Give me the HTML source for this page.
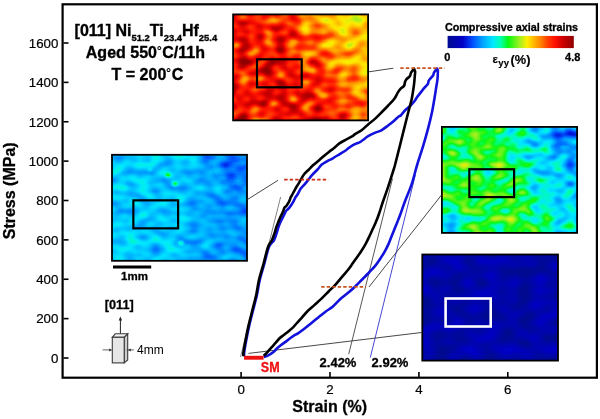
<!DOCTYPE html>
<html><head><meta charset="utf-8"><style>
html,body{margin:0;padding:0;background:#fff;}
svg{display:block;}
text{font-family:"Liberation Sans",Arial,sans-serif;}
</style></head><body>
<svg width="600" height="419" viewBox="0 0 600 419">
<defs>
<filter id="blur" x="-1" y="-1" width="3" height="3"><feGaussianBlur stdDeviation="5"/></filter><filter id="blur2" x="-1" y="-1" width="3" height="3"><feGaussianBlur stdDeviation="1.2"/></filter><filter id="fr" filterUnits="userSpaceOnUse" x="233.1" y="14.4" width="135" height="106" color-interpolation-filters="sRGB">
<feTurbulence type="fractalNoise" baseFrequency="0.08 0.12" numOctaves="1" seed="4" result="n"/>
<feColorMatrix in="n" type="matrix" values="1 0 0 0 0 1 0 0 0 0 1 0 0 0 0 0 0 0 0 1" result="g"/>
<feComposite in="SourceGraphic" in2="g" operator="arithmetic" k1="1.4700" k2="0.2650" k3="-0.6500" k4="0.3250" result="v"/>
<feComponentTransfer in="v"><feFuncR type="table" tableValues="0.000 0.000 0.000 0.000 0.000 0.000 0.000 0.000 0.000 0.000 0.000 0.000 0.000 0.000 0.000 0.000 0.000 0.000 0.000 0.000 0.000 0.000 0.000 0.000 0.000 0.000 0.000 0.001 0.009 0.017 0.025 0.060 0.164 0.267 0.371 0.474 0.578 0.678 0.775 0.872 0.969 1.000 1.000 1.000 1.000 1.000 1.000 1.000 1.000 1.000 1.000 1.000 1.000 1.000 1.000 0.971 0.923 0.875 0.827 0.783 0.739 0.695 0.652 0.608 0.565"/><feFuncG type="table" tableValues="0.039 0.034 0.029 0.024 0.019 0.014 0.009 0.003 0.020 0.081 0.142 0.203 0.265 0.327 0.392 0.458 0.523 0.588 0.648 0.700 0.752 0.804 0.856 0.908 0.932 0.956 0.979 0.999 0.992 0.985 0.978 0.971 0.966 0.960 0.955 0.949 0.944 0.940 0.938 0.936 0.934 0.890 0.827 0.764 0.700 0.641 0.582 0.523 0.452 0.373 0.295 0.229 0.180 0.131 0.082 0.053 0.037 0.020 0.004 0.000 0.000 0.000 0.000 0.000 0.000"/><feFuncB type="table" tableValues="0.565 0.593 0.622 0.650 0.679 0.708 0.736 0.765 0.798 0.840 0.882 0.924 0.966 1.000 1.000 1.000 1.000 1.000 1.000 1.000 1.000 1.000 1.000 1.000 0.923 0.842 0.761 0.671 0.509 0.348 0.187 0.073 0.083 0.092 0.102 0.111 0.121 0.108 0.076 0.043 0.010 0.000 0.000 0.000 0.000 0.000 0.000 0.000 0.000 0.000 0.000 0.000 0.000 0.000 0.000 0.000 0.000 0.000 0.000 0.000 0.000 0.000 0.000 0.000 0.000"/><feFuncA type="linear" slope="0" intercept="1"/></feComponentTransfer>
</filter><linearGradient id="gr" gradientUnits="userSpaceOnUse" x1="298" y1="82" x2="350" y2="46"><stop offset="0" stop-color="#dadada"/><stop offset="0.4" stop-color="#cccccc"/><stop offset="0.7" stop-color="#bababa"/><stop offset="1" stop-color="#b0b0b0"/></linearGradient><filter id="fb" filterUnits="userSpaceOnUse" x="112" y="154.8" width="135" height="106" color-interpolation-filters="sRGB">
<feTurbulence type="fractalNoise" baseFrequency="0.08 0.13" numOctaves="1" seed="7" result="n"/>
<feColorMatrix in="n" type="matrix" values="1 0 0 0 0 1 0 0 0 0 1 0 0 0 0 0 0 0 0 1" result="g"/>
<feComposite in="SourceGraphic" in2="g" operator="arithmetic" k1="0.0000" k2="1.0000" k3="0.2700" k4="-0.1350" result="v"/>
<feComponentTransfer in="v"><feFuncR type="table" tableValues="0.000 0.000 0.000 0.000 0.000 0.000 0.000 0.000 0.000 0.000 0.000 0.000 0.000 0.000 0.000 0.000 0.000 0.000 0.000 0.000 0.000 0.000 0.000 0.000 0.000 0.000 0.000 0.001 0.009 0.017 0.025 0.060 0.164 0.267 0.371 0.474 0.578 0.678 0.775 0.872 0.969 1.000 1.000 1.000 1.000 1.000 1.000 1.000 1.000 1.000 1.000 1.000 1.000 1.000 1.000 0.971 0.923 0.875 0.827 0.783 0.739 0.695 0.652 0.608 0.565"/><feFuncG type="table" tableValues="0.039 0.034 0.029 0.024 0.019 0.014 0.009 0.003 0.020 0.081 0.142 0.203 0.265 0.327 0.392 0.458 0.523 0.588 0.648 0.700 0.752 0.804 0.856 0.908 0.932 0.956 0.979 0.999 0.992 0.985 0.978 0.971 0.966 0.960 0.955 0.949 0.944 0.940 0.938 0.936 0.934 0.890 0.827 0.764 0.700 0.641 0.582 0.523 0.452 0.373 0.295 0.229 0.180 0.131 0.082 0.053 0.037 0.020 0.004 0.000 0.000 0.000 0.000 0.000 0.000"/><feFuncB type="table" tableValues="0.565 0.593 0.622 0.650 0.679 0.708 0.736 0.765 0.798 0.840 0.882 0.924 0.966 1.000 1.000 1.000 1.000 1.000 1.000 1.000 1.000 1.000 1.000 1.000 0.923 0.842 0.761 0.671 0.509 0.348 0.187 0.073 0.083 0.092 0.102 0.111 0.121 0.108 0.076 0.043 0.010 0.000 0.000 0.000 0.000 0.000 0.000 0.000 0.000 0.000 0.000 0.000 0.000 0.000 0.000 0.000 0.000 0.000 0.000 0.000 0.000 0.000 0.000 0.000 0.000"/><feFuncA type="linear" slope="0" intercept="1"/></feComponentTransfer>
</filter><linearGradient id="gb" x1="0" y1="0" x2="1" y2="0"><stop offset="0" stop-color="#545454"/><stop offset="0.45" stop-color="#525252"/><stop offset="0.72" stop-color="#494949"/><stop offset="1" stop-color="#404040"/></linearGradient><filter id="fg" filterUnits="userSpaceOnUse" x="441.9" y="126.9" width="135.2" height="106" color-interpolation-filters="sRGB">
<feTurbulence type="fractalNoise" baseFrequency="0.085 0.13" numOctaves="1" seed="11" result="n"/>
<feColorMatrix in="n" type="matrix" values="1 0 0 0 0 1 0 0 0 0 1 0 0 0 0 0 0 0 0 1" result="g"/>
<feComposite in="SourceGraphic" in2="g" operator="arithmetic" k1="0.0000" k2="1.0000" k3="0.4200" k4="-0.2100" result="v"/>
<feComponentTransfer in="v"><feFuncR type="table" tableValues="0.000 0.000 0.000 0.000 0.000 0.000 0.000 0.000 0.000 0.000 0.000 0.000 0.000 0.000 0.000 0.000 0.000 0.000 0.000 0.000 0.000 0.000 0.000 0.000 0.000 0.000 0.000 0.001 0.009 0.017 0.025 0.060 0.164 0.267 0.371 0.474 0.578 0.678 0.775 0.872 0.969 1.000 1.000 1.000 1.000 1.000 1.000 1.000 1.000 1.000 1.000 1.000 1.000 1.000 1.000 0.971 0.923 0.875 0.827 0.783 0.739 0.695 0.652 0.608 0.565"/><feFuncG type="table" tableValues="0.039 0.034 0.029 0.024 0.019 0.014 0.009 0.003 0.020 0.081 0.142 0.203 0.265 0.327 0.392 0.458 0.523 0.588 0.648 0.700 0.752 0.804 0.856 0.908 0.932 0.956 0.979 0.999 0.992 0.985 0.978 0.971 0.966 0.960 0.955 0.949 0.944 0.940 0.938 0.936 0.934 0.890 0.827 0.764 0.700 0.641 0.582 0.523 0.452 0.373 0.295 0.229 0.180 0.131 0.082 0.053 0.037 0.020 0.004 0.000 0.000 0.000 0.000 0.000 0.000"/><feFuncB type="table" tableValues="0.565 0.593 0.622 0.650 0.679 0.708 0.736 0.765 0.798 0.840 0.882 0.924 0.966 1.000 1.000 1.000 1.000 1.000 1.000 1.000 1.000 1.000 1.000 1.000 0.923 0.842 0.761 0.671 0.509 0.348 0.187 0.073 0.083 0.092 0.102 0.111 0.121 0.108 0.076 0.043 0.010 0.000 0.000 0.000 0.000 0.000 0.000 0.000 0.000 0.000 0.000 0.000 0.000 0.000 0.000 0.000 0.000 0.000 0.000 0.000 0.000 0.000 0.000 0.000 0.000"/><feFuncA type="linear" slope="0" intercept="1"/></feComponentTransfer>
</filter><linearGradient id="gg" gradientUnits="userSpaceOnUse" x1="490" y1="190" x2="574" y2="158"><stop offset="0" stop-color="#7c7c7c"/><stop offset="0.3" stop-color="#7a7a7a"/><stop offset="0.45" stop-color="#696969"/><stop offset="0.6" stop-color="#5c5c5c"/><stop offset="1" stop-color="#4f4f4f"/></linearGradient><filter id="fd" filterUnits="userSpaceOnUse" x="422.3" y="254.5" width="135.7" height="106.1" color-interpolation-filters="sRGB">
<feTurbulence type="fractalNoise" baseFrequency="0.06 0.09" numOctaves="1" seed="2" result="n"/>
<feColorMatrix in="n" type="matrix" values="1 0 0 0 0 1 0 0 0 0 1 0 0 0 0 0 0 0 0 1" result="g"/>
<feComposite in="SourceGraphic" in2="g" operator="arithmetic" k1="0.0000" k2="1.0000" k3="0.2600" k4="-0.1300" result="v"/>
<feComponentTransfer in="v"><feFuncR type="table" tableValues="0.000 0.000 0.000 0.000 0.000 0.000 0.000 0.000 0.000 0.000 0.000 0.000 0.000 0.000 0.000 0.000 0.000 0.000 0.000 0.000 0.000 0.000 0.000 0.000 0.000 0.000 0.000 0.001 0.009 0.017 0.025 0.060 0.164 0.267 0.371 0.474 0.578 0.678 0.775 0.872 0.969 1.000 1.000 1.000 1.000 1.000 1.000 1.000 1.000 1.000 1.000 1.000 1.000 1.000 1.000 0.971 0.923 0.875 0.827 0.783 0.739 0.695 0.652 0.608 0.565"/><feFuncG type="table" tableValues="0.039 0.034 0.029 0.024 0.019 0.014 0.009 0.003 0.020 0.081 0.142 0.203 0.265 0.327 0.392 0.458 0.523 0.588 0.648 0.700 0.752 0.804 0.856 0.908 0.932 0.956 0.979 0.999 0.992 0.985 0.978 0.971 0.966 0.960 0.955 0.949 0.944 0.940 0.938 0.936 0.934 0.890 0.827 0.764 0.700 0.641 0.582 0.523 0.452 0.373 0.295 0.229 0.180 0.131 0.082 0.053 0.037 0.020 0.004 0.000 0.000 0.000 0.000 0.000 0.000"/><feFuncB type="table" tableValues="0.565 0.593 0.622 0.650 0.679 0.708 0.736 0.765 0.798 0.840 0.882 0.924 0.966 1.000 1.000 1.000 1.000 1.000 1.000 1.000 1.000 1.000 1.000 1.000 0.923 0.842 0.761 0.671 0.509 0.348 0.187 0.073 0.083 0.092 0.102 0.111 0.121 0.108 0.076 0.043 0.010 0.000 0.000 0.000 0.000 0.000 0.000 0.000 0.000 0.000 0.000 0.000 0.000 0.000 0.000 0.000 0.000 0.000 0.000 0.000 0.000 0.000 0.000 0.000 0.000"/><feFuncA type="linear" slope="0" intercept="1"/></feComponentTransfer>
</filter><linearGradient id="gd" x1="0" y1="0" x2="1" y2="0"><stop offset="0" stop-color="#0d0d0d"/><stop offset="1" stop-color="#0e0e0e"/></linearGradient>
<linearGradient id="jet" x1="0" y1="0" x2="1" y2="0"><stop offset="0.0" stop-color="#000a90"/><stop offset="0.12" stop-color="#0000c8"/><stop offset="0.2" stop-color="#0050ff"/><stop offset="0.275" stop-color="#00a0ff"/><stop offset="0.36" stop-color="#00e8ff"/><stop offset="0.42" stop-color="#00ffb0"/><stop offset="0.48" stop-color="#08f812"/><stop offset="0.57" stop-color="#a0f020"/><stop offset="0.63" stop-color="#ffee00"/><stop offset="0.69" stop-color="#ffb000"/><stop offset="0.74" stop-color="#ff8000"/><stop offset="0.79" stop-color="#ff4000"/><stop offset="0.85" stop-color="#ff1000"/><stop offset="0.91" stop-color="#d00000"/><stop offset="1.0" stop-color="#900000"/></linearGradient>
</defs>
<rect width="600" height="419" fill="#fff"/>

<!-- frame -->
<rect x="62.6" y="4.3" width="534.3" height="373.4" fill="none" stroke="#000" stroke-width="2.2"/>
<!-- y ticks -->
<g stroke="#000" stroke-width="1.6">
<line x1="63.5" y1="358.00" x2="68.5" y2="358.00"/><line x1="63.5" y1="318.62" x2="68.5" y2="318.62"/><line x1="63.5" y1="279.25" x2="68.5" y2="279.25"/><line x1="63.5" y1="239.88" x2="68.5" y2="239.88"/><line x1="63.5" y1="200.50" x2="68.5" y2="200.50"/><line x1="63.5" y1="161.12" x2="68.5" y2="161.12"/><line x1="63.5" y1="121.75" x2="68.5" y2="121.75"/><line x1="63.5" y1="82.38" x2="68.5" y2="82.38"/><line x1="63.5" y1="43.00" x2="68.5" y2="43.00"/>
<line x1="241.10" y1="372" x2="241.10" y2="377"/><line x1="330.00" y1="372" x2="330.00" y2="377"/><line x1="418.90" y1="372" x2="418.90" y2="377"/><line x1="507.80" y1="372" x2="507.80" y2="377"/>
</g>
<g font-size="13.3" text-anchor="end" fill="#000" stroke="#000" stroke-width="0.2">
<text x="58.4" y="362.80">0</text><text x="58.4" y="323.43">200</text><text x="58.4" y="284.05">400</text><text x="58.4" y="244.68">600</text><text x="58.4" y="205.30">800</text><text x="58.4" y="165.93">1000</text><text x="58.4" y="126.55">1200</text><text x="58.4" y="87.17">1400</text><text x="58.4" y="47.80">1600</text>
</g>
<g font-size="13.3" text-anchor="middle" fill="#000" stroke="#000" stroke-width="0.2">
<text x="241.10" y="393.6">0</text><text x="330.00" y="393.6">2</text><text x="418.90" y="393.6">4</text><text x="507.80" y="393.6">6</text>
</g>
<text x="329.7" y="411.7" font-size="16" font-weight="bold" text-anchor="middle" stroke="#000" stroke-width="0.3">Strain (%)</text>
<text transform="translate(15.3,190.8) rotate(-90)" font-size="16" font-weight="bold" text-anchor="middle" stroke="#000" stroke-width="0.3">Stress (MPa)</text>

<!-- title block -->
<g font-weight="bold" fill="#000" stroke="#000" stroke-width="0.35">
<text x="74.6" y="36" font-size="16">[011] Ni<tspan font-size="9.4" dy="5">51.2</tspan><tspan dy="-5">Ti</tspan><tspan font-size="9.4" dy="5">23.4</tspan><tspan dy="-5">Hf</tspan><tspan font-size="9.4" dy="5">25.4</tspan></text>
<text x="145.4" y="57.8" font-size="16" text-anchor="middle">Aged 550<tspan dy="1.6" stroke-width="0">˚</tspan><tspan dy="-1.6">C/11h</tspan></text>
<text x="147.4" y="79.5" font-size="16" text-anchor="middle">T = 200<tspan dy="1.6" stroke-width="0">˚</tspan><tspan dy="-1.6">C</tspan></text>
</g>

<!-- insets -->
<g filter="url(#fr)"><rect x="233.1" y="14.4" width="135" height="106" fill="url(#gr)"/><ellipse cx="352" cy="21" rx="16" ry="4" fill="#949494" filter="url(#blur)"/><ellipse cx="345" cy="43" rx="10" ry="3" fill="#949494" filter="url(#blur)"/><ellipse cx="363" cy="72" rx="4" ry="10" fill="#999999" filter="url(#blur)"/><ellipse cx="340" cy="100" rx="16" ry="10" fill="#cccccc" filter="url(#blur)"/><ellipse cx="362" cy="112" rx="8" ry="6" fill="#c2c2c2" filter="url(#blur)"/></g><rect x="233.1" y="14.4" width="135" height="106" fill="none" stroke="#000" stroke-width="1.8"/>
<rect x="257" y="59.3" width="44.7" height="28" fill="none" stroke="#000" stroke-width="2.2"/>

<g filter="url(#fb)"><rect x="112" y="154.8" width="135" height="106" fill="url(#gb)"/><ellipse cx="236" cy="166" rx="16" ry="12" fill="#393939" filter="url(#blur)"/><ellipse cx="168" cy="175" rx="3" ry="2" fill="#787878" filter="url(#blur2)"/><ellipse cx="175" cy="184" rx="3" ry="2.2" fill="#787878" filter="url(#blur2)"/><ellipse cx="181" cy="243" rx="3" ry="2.2" fill="#787878" filter="url(#blur2)"/><ellipse cx="150" cy="170" rx="2" ry="1.5" fill="#6b6b6b" filter="url(#blur2)"/></g><rect x="112" y="154.8" width="135" height="106" fill="none" stroke="#000" stroke-width="1.8"/>
<rect x="133.35" y="200.35" width="44.75" height="28" fill="none" stroke="#000" stroke-width="2.2"/>

<g filter="url(#fg)"><rect x="441.9" y="126.9" width="135.2" height="106" fill="url(#gg)"/><ellipse cx="565" cy="138" rx="22" ry="12" fill="#404040" filter="url(#blur)"/><ellipse cx="452" cy="220" rx="16" ry="14" fill="#5e5e5e" filter="url(#blur)"/><ellipse cx="446" cy="229" rx="7" ry="5" fill="#474747" filter="url(#blur)"/><ellipse cx="452" cy="132" rx="12" ry="6" fill="#696969" filter="url(#blur)"/></g><rect x="441.9" y="126.9" width="135.2" height="106" fill="none" stroke="#000" stroke-width="1.8"/>
<rect x="469.35" y="169.25" width="44.75" height="27.85" fill="none" stroke="#000" stroke-width="2.2"/>

<g filter="url(#fd)"><rect x="422.3" y="254.5" width="135.7" height="106.1" fill="url(#gd)"/></g><rect x="422.3" y="254.5" width="135.7" height="106.1" fill="none" stroke="#000" stroke-width="1.8"/>
<rect x="445.6" y="298.5" width="45.1" height="28" fill="none" stroke="#fff" stroke-width="2.6"/>

<!-- scale bar -->
<rect x="113" y="265.5" width="38.2" height="3" fill="#000"/>
<text x="134.5" y="279.5" font-size="11.5" font-weight="bold" stroke="#000" stroke-width="0.3" text-anchor="middle">1mm</text>

<!-- colorbar -->
<text x="511.5" y="30.5" font-size="10.8" font-weight="bold" stroke="#000" stroke-width="0.3" text-anchor="middle">Compressive axial strains</text>
<rect x="447.6" y="35.9" width="126.2" height="12.2" fill="url(#jet)"/>
<text x="447.4" y="60.7" font-size="11" font-weight="bold" stroke="#000" stroke-width="0.3" text-anchor="middle">0</text>
<text x="572.7" y="60.7" font-size="11" font-weight="bold" stroke="#000" stroke-width="0.3" text-anchor="middle">4.8</text>
<g font-weight="bold" stroke="#000" stroke-width="0.15"><text x="492.4" y="62.6" font-size="11.5">ε</text><text x="498.3" y="66.3" font-size="9.6">yy</text><text x="510.6" y="64.2" font-size="12.8">(%)</text></g>

<!-- thin lines -->
<g fill="none" stroke-width="0.9">
<line x1="240.5" y1="357" x2="280.6" y2="197" stroke="#777"/>
<line x1="247.5" y1="199.5" x2="278" y2="180.3" stroke="#333"/>
<line x1="369" y1="71.8" x2="393.3" y2="68.2" stroke="#333"/>
<line x1="392.5" y1="178.6" x2="348.7" y2="354.2" stroke="#444"/>
<line x1="415.4" y1="174.8" x2="370.3" y2="357.5" stroke="#3333cc"/>
<line x1="441.5" y1="195" x2="369" y2="287" stroke="#333"/>
<line x1="248.5" y1="353.4" x2="421.5" y2="332.5" stroke="#333"/>
</g>


<!-- curves -->
<path d="M244.20,356.20 C244.18,355.67 243.80,355.43 244.10,353.00 C244.40,350.57 245.17,346.08 246.00,341.60 C246.83,337.12 247.93,331.28 249.10,326.10 C250.27,320.92 251.70,315.68 253.00,310.50 C254.30,305.32 255.78,300.05 256.90,295.00 C258.02,289.95 258.45,285.45 259.70,280.20 C260.95,274.95 262.85,269.08 264.40,263.50 C265.95,257.92 267.38,250.62 269.00,246.70 C270.62,242.78 272.80,242.35 274.10,240.00 C275.40,237.65 276.08,234.73 276.80,232.60 C277.52,230.47 277.77,229.00 278.40,227.20 C279.03,225.40 279.78,223.58 280.60,221.80 C281.42,220.02 282.42,218.28 283.30,216.50 C284.18,214.72 285.10,212.35 285.90,211.10 C286.70,209.85 287.28,209.90 288.10,209.00 C288.92,208.10 289.90,206.97 290.80,205.70 C291.70,204.43 292.70,202.83 293.50,201.40 C294.30,199.97 294.98,198.17 295.60,197.10 C296.22,196.03 296.33,196.42 297.20,195.00 C298.07,193.58 299.50,190.45 300.80,188.60 C302.10,186.75 303.73,185.40 305.00,183.90 C306.27,182.40 307.12,181.20 308.40,179.60 C309.68,178.00 311.18,175.98 312.70,174.30 C314.22,172.62 315.98,171.12 317.50,169.50 C319.02,167.88 320.22,165.95 321.80,164.60 C323.38,163.25 325.17,162.45 327.00,161.40 C328.83,160.35 330.73,159.48 332.80,158.30 C334.87,157.12 337.20,155.65 339.40,154.30 C341.60,152.95 343.82,151.70 346.00,150.20 C348.18,148.70 350.17,146.65 352.50,145.30 C354.83,143.95 358.27,142.98 360.00,142.10 C361.73,141.22 361.55,140.98 362.90,140.00 C364.25,139.02 366.13,137.38 368.10,136.20 C370.07,135.02 372.50,133.88 374.70,132.90 C376.90,131.92 379.12,131.50 381.30,130.30 C383.48,129.10 385.62,127.35 387.80,125.70 C389.98,124.05 392.63,121.90 394.40,120.40 C396.17,118.90 397.30,117.57 398.40,116.70 C399.50,115.83 399.92,116.23 401.00,115.20 C402.08,114.17 403.38,112.03 404.90,110.50 C406.42,108.97 408.42,107.67 410.10,106.00 C411.78,104.33 413.85,101.97 415.00,100.50 C416.15,99.03 416.03,98.55 417.00,97.20 C417.97,95.85 419.70,93.83 420.80,92.40 C421.90,90.97 422.82,89.55 423.60,88.60 C424.38,87.65 424.78,87.48 425.50,86.70 C426.22,85.92 427.38,84.85 427.90,83.90 C428.42,82.95 428.20,81.88 428.60,81.00 C429.00,80.12 429.53,79.55 430.30,78.60 C431.07,77.65 432.57,76.33 433.20,75.30 C433.83,74.27 433.47,73.52 434.10,72.40 C434.73,71.28 436.52,69.23 437.00,68.60 L437.90,70.50 C437.83,71.93 437.82,76.08 437.50,79.10 C437.18,82.12 436.47,85.62 436.00,88.60 C435.53,91.58 435.35,93.15 434.70,97.00 C434.05,100.85 433.20,106.47 432.10,111.70 C431.00,116.93 429.55,122.82 428.10,128.40 C426.65,133.98 425.23,139.10 423.40,145.20 C421.57,151.30 419.07,158.47 417.10,165.00 C415.13,171.53 413.63,178.32 411.60,184.40 C409.57,190.48 406.82,196.40 404.90,201.50 C402.98,206.60 401.37,211.55 400.10,215.00 C398.83,218.45 398.25,219.82 397.30,222.20 C396.35,224.58 395.37,226.92 394.40,229.30 C393.43,231.68 392.45,234.12 391.50,236.50 C390.55,238.88 389.77,241.22 388.70,243.60 C387.63,245.98 386.42,248.42 385.10,250.80 C383.78,253.18 382.35,255.52 380.80,257.90 C379.25,260.28 377.68,262.75 375.80,265.10 C373.92,267.45 371.87,269.52 369.50,272.00 C367.13,274.48 364.12,277.47 361.60,280.00 C359.08,282.53 356.80,284.93 354.40,287.20 C352.00,289.47 349.58,291.58 347.20,293.60 C344.82,295.62 342.48,297.15 340.10,299.30 C337.72,301.45 335.28,304.47 332.90,306.50 C330.52,308.53 328.18,309.72 325.80,311.50 C323.42,313.28 320.98,315.28 318.60,317.20 C316.22,319.12 313.88,321.08 311.50,323.00 C309.12,324.92 306.55,326.98 304.30,328.70 C302.05,330.42 299.87,332.07 298.00,333.30 C296.13,334.53 294.92,334.88 293.10,336.10 C291.28,337.32 289.10,339.10 287.10,340.60 C285.10,342.10 282.85,343.73 281.10,345.10 C279.35,346.47 277.98,347.55 276.60,348.80 C275.22,350.05 274.18,351.52 272.80,352.60 C271.42,353.68 269.80,354.57 268.30,355.30 C266.80,356.03 264.55,356.72 263.80,357.00" fill="none" stroke="#1212dc" stroke-width="2.6" stroke-linejoin="round"/>
<path d="M243.50,356.20 C243.48,355.67 243.10,355.43 243.40,353.00 C243.70,350.57 244.47,346.08 245.30,341.60 C246.13,337.12 247.23,331.28 248.40,326.10 C249.57,320.92 251.00,315.68 252.30,310.50 C253.60,305.32 255.10,300.05 256.20,295.00 C257.30,289.95 257.67,285.45 258.90,280.20 C260.13,274.95 262.07,269.08 263.60,263.50 C265.13,257.92 266.70,250.62 268.10,246.70 C269.50,242.78 270.90,242.35 272.00,240.00 C273.10,237.65 273.98,234.73 274.70,232.60 C275.42,230.47 275.68,229.00 276.30,227.20 C276.92,225.40 277.68,223.58 278.40,221.80 C279.12,220.02 279.78,218.28 280.60,216.50 C281.42,214.72 282.68,212.53 283.30,211.10 C283.92,209.67 283.77,208.80 284.30,207.90 C284.83,207.00 285.68,206.78 286.50,205.70 C287.32,204.62 288.48,202.83 289.20,201.40 C289.92,199.97 290.35,198.12 290.80,197.10 C291.25,196.08 291.12,196.72 291.90,195.30 C292.68,193.88 294.42,190.50 295.50,188.60 C296.58,186.70 297.52,185.40 298.40,183.90 C299.28,182.40 299.85,181.20 300.80,179.60 C301.75,178.00 302.75,175.98 304.10,174.30 C305.45,172.62 307.32,171.08 308.90,169.50 C310.48,167.92 311.85,166.38 313.60,164.80 C315.35,163.22 317.73,161.43 319.40,160.00 C321.07,158.57 322.02,157.55 323.60,156.20 C325.18,154.85 327.15,153.27 328.90,151.90 C330.65,150.53 332.35,149.42 334.10,148.00 C335.85,146.58 337.42,144.78 339.40,143.40 C341.38,142.02 343.82,140.90 346.00,139.70 C348.18,138.50 351.00,137.12 352.50,136.20 C354.00,135.28 353.48,135.18 355.00,134.20 C356.52,133.22 359.42,131.93 361.60,130.30 C363.78,128.67 365.92,126.27 368.10,124.40 C370.28,122.53 372.50,121.07 374.70,119.10 C376.90,117.13 379.12,114.78 381.30,112.60 C383.48,110.42 385.62,108.30 387.80,106.00 C389.98,103.70 392.72,101.07 394.40,98.80 C396.08,96.53 396.85,94.10 397.90,92.40 C398.95,90.70 399.67,89.70 400.70,88.60 C401.73,87.50 403.38,86.90 404.10,85.80 C404.82,84.70 404.60,83.12 405.00,82.00 C405.40,80.88 405.70,80.07 406.50,79.10 C407.30,78.13 409.02,77.32 409.80,76.20 C410.58,75.08 410.48,73.67 411.20,72.40 C411.92,71.13 413.62,69.23 414.10,68.60 L415.20,72.00 C415.13,72.67 414.98,74.02 414.80,76.00 C414.62,77.98 414.45,81.00 414.10,83.90 C413.75,86.80 413.13,90.72 412.70,93.40 C412.27,96.08 412.22,96.95 411.50,100.00 C410.78,103.05 409.62,106.97 408.40,111.70 C407.18,116.43 405.60,122.82 404.20,128.40 C402.80,133.98 401.53,139.10 400.00,145.20 C398.47,151.30 396.03,161.03 395.00,165.00 C393.97,168.97 395.02,165.13 393.80,169.00 C392.58,172.87 389.50,182.78 387.70,188.20 C385.90,193.62 384.52,197.03 383.00,201.50 C381.48,205.97 379.80,211.55 378.60,215.00 C377.40,218.45 376.80,219.82 375.80,222.20 C374.80,224.58 373.68,226.92 372.60,229.30 C371.52,231.68 370.43,234.12 369.30,236.50 C368.17,238.88 367.10,241.22 365.80,243.60 C364.50,245.98 363.05,248.42 361.50,250.80 C359.95,253.18 358.17,255.52 356.50,257.90 C354.83,260.28 353.00,263.00 351.50,265.10 C350.00,267.20 348.93,268.70 347.50,270.50 C346.07,272.30 344.85,273.60 342.90,275.90 C340.95,278.20 338.18,281.70 335.80,284.30 C333.42,286.90 330.98,289.12 328.60,291.50 C326.22,293.88 323.88,296.33 321.50,298.60 C319.12,300.87 316.68,302.95 314.30,305.10 C311.92,307.25 309.50,309.15 307.20,311.50 C304.90,313.85 302.37,317.12 300.50,319.20 C298.63,321.28 297.23,322.63 296.00,324.00 C294.77,325.37 294.33,326.18 293.10,327.40 C291.87,328.62 290.10,330.07 288.60,331.30 C287.10,332.53 285.60,333.63 284.10,334.80 C282.60,335.97 281.35,336.58 279.60,338.30 C277.85,340.02 275.48,342.97 273.60,345.10 C271.72,347.23 269.93,349.32 268.30,351.10 C266.67,352.88 264.55,355.02 263.80,355.80" fill="none" stroke="#000" stroke-width="2.6" stroke-linejoin="round"/>

<g stroke-width="1.8" stroke-dasharray="3.4 2.1" fill="none">
<line x1="284.2" y1="179.7" x2="328.3" y2="179.7" stroke="#cc2c14"/>
<line x1="400.3" y1="68.2" x2="444.7" y2="68.2" stroke="#c9541e"/>
<line x1="321.2" y1="286.8" x2="366" y2="286.8" stroke="#c9541e"/>
</g>
<!-- SM -->
<rect x="244.1" y="355.8" width="19.5" height="3.9" fill="#ee1111"/>
<text x="260.8" y="372.4" font-size="14.2" font-weight="bold" fill="#ee1111" stroke="#ee1111" stroke-width="0.3" textLength="18.8" lengthAdjust="spacingAndGlyphs">SM</text>
<text x="338" y="367.2" font-size="13" font-weight="bold" stroke="#000" stroke-width="0.3" text-anchor="middle">2.42%</text>
<text x="390" y="367.2" font-size="13" font-weight="bold" stroke="#000" stroke-width="0.3" text-anchor="middle">2.92%</text>

<!-- specimen icon -->
<text x="119.3" y="309.2" font-size="12.7" font-weight="bold" stroke="#000" stroke-width="0.3" text-anchor="middle">[011]</text>
<line x1="120.4" y1="320" x2="120.4" y2="335" stroke="#222" stroke-width="1"/>
<path d="M118.7,320.6 L120.4,316.6 L122.1,320.6 Z" fill="#222"/>
<path d="M112.3,337.3 L115.2,333.8 L127.7,333.8 L124.2,337.3 Z" fill="#f0f0f0" stroke="#3a3a3a" stroke-width="1.1"/>
<path d="M124.2,337.3 L127.7,333.8 L127.7,360 L124.2,362.9 Z" fill="#cdcdcd" stroke="#3a3a3a" stroke-width="1.1"/>
<rect x="112.3" y="337.3" width="11.9" height="25.6" fill="#e6e6e6" stroke="#3a3a3a" stroke-width="1.1"/>
<g stroke="#555" stroke-width="0.9">
<line x1="102.6" y1="349.9" x2="111.5" y2="349.9"/>
<line x1="126.3" y1="349.9" x2="133.8" y2="349.9"/>
</g>
<path d="M109.2,348.4 L112,349.9 L109.2,351.4 Z M130.8,348.4 L128,349.9 L130.8,351.4 Z" fill="#333"/>
<text x="137.1" y="353.6" font-size="12">4mm</text>
</svg>
</body></html>
